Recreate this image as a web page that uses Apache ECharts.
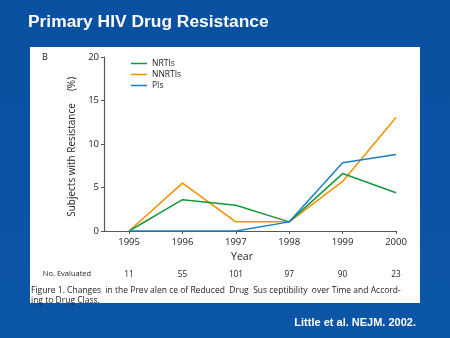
<!DOCTYPE html>
<html><head><meta charset="utf-8">
<script src="https://cdn.jsdelivr.net/npm/echarts@6/dist/echarts.min.js"></script>
<style>html,body{margin:0;padding:0;background:#0a4f9c;}#c{width:450px;height:338px;}</style>
</head><body><div id="c"></div>
<script>
const years = [1995, 1996, 1997, 1998, 1999, 2000];
const nEvaluated = [11, 55, 101, 97, 90, 23];
const nrtis = [0, 3.6, 2.95, 1.05, 6.6, 4.4];
const nnrtis = [0, 5.5, 1.05, 1.05, 5.7, 13.05];
const pis = [0, 0, 0, 1.05, 7.85, 8.8];
const yTicks = [0, 5, 10, 15, 20];

const chart = echarts.init(document.getElementById('c'), null, {renderer: 'canvas'});
const axisGray = '#555';
const font = '"Open Sans", "DejaVu Sans", sans-serif';
function pairs(arr){ return years.map((y,i)=>[y, arr[i]]); }
const option = {
  backgroundColor: {type:'linear', x:0, y:0, x2:0, y2:1, colorStops:[{offset:0,color:'#0950a0'},{offset:1,color:'#0c56a8'}]},
  animation: false,
  graphic: [
    {type:'rect', shape:{x:30, y:47, width:390, height:256}, style:{fill:'#ffffff'}, z:-10},
    {type:'text', left:28, top:14, style:{text:'Primary HIV Drug Resistance', fill:'#ffffff', font:'bold 17.4px "Liberation Sans", Arial, sans-serif', textShadowColor:'#000', textShadowOffsetX:1.5, textShadowOffsetY:1.5, textShadowBlur:0}},
    {type:'text', x:42, y:53, style:{text:'B', fill:'#222', font:'9px '+font}},
    {type:'text', x:72, y:160, rotation:Math.PI/2, style:{text:'Subjects with Resistance', fill:'#222', font:'10px '+font, align:'center', verticalAlign:'middle'}},
    {type:'text', x:72, y:84, rotation:Math.PI/2, style:{text:'(%)', fill:'#222', font:'10px '+font, align:'center', verticalAlign:'middle'}},
    {type:'text', x:242, y:257, style:{text:'Year', fill:'#222', font:'10.5px '+font, align:'center', verticalAlign:'middle'}},
    {type:'text', x:67, y:274, style:{text:'No. Evaluated', fill:'#222', font:'7.5px '+font, align:'center', verticalAlign:'middle'}},
    {type:'text', x:31, y:290.5, style:{text:'Figure 1. Changes  in the Prev alen ce of Reduced  Drug  Sus ceptibility  over Time and Accord-', fill:'#222', font:'8.5px '+font, verticalAlign:'middle'}},
    {type:'text', x:31, y:301, style:{text:'ing to Drug Class.', fill:'#222', font:'8.5px '+font, verticalAlign:'middle'}},
    {type:'text', x:416, y:323, style:{text:'Little et al. NEJM. 2002.', fill:'#ffffff', font:'bold 11px "Liberation Sans", Arial, sans-serif', align:'right', verticalAlign:'middle', textShadowColor:'#000', textShadowOffsetX:1, textShadowOffsetY:1}}
  ],
  legend: {
    orient:'vertical', left:126, top:54, icon:'rect', itemWidth:16, itemHeight:1.5, itemGap:2,
    textStyle:{fontSize:8.5, color:'#222', fontFamily:font, lineHeight:9},
    data:['NRTIs','NNRTIs','PIs']
  },
  grid: {left:104, right:54, top:57, bottom:107, containLabel:false},
  xAxis: [{
    type:'value', min:1994.53, max:2000,
    axisLine:{lineStyle:{color:axisGray, width:1.2}},
    axisTick:{show:true, customValues:years, length:3, lineStyle:{color:axisGray}},
    axisLabel:{customValues:years, color:'#222', fontSize:9.5, fontFamily:font, margin:6, formatter:v=>String(v)},
    splitLine:{show:false}
  },{
    type:'value', min:1994.53, max:2000, position:'bottom', offset:32,
    axisLine:{show:false}, axisTick:{show:false},
    axisLabel:{customValues:years, color:'#222', fontSize:8.3, fontFamily:font, formatter:v=>String(nEvaluated[years.indexOf(Math.round(v))])},
    splitLine:{show:false}
  }],
  yAxis: {
    type:'value', min:0, max:20, interval:5,
    axisLine:{show:true, lineStyle:{color:axisGray, width:1.2}},
    axisTick:{show:true, length:3, lineStyle:{color:axisGray}},
    axisLabel:{color:'#222', fontSize:9.5, fontFamily:font, margin:5},
    splitLine:{show:false}
  },
  series: [
    {name:'NRTIs', type:'line', data:pairs(nrtis), symbol:'none', lineStyle:{color:'#14983c', width:1.5}, itemStyle:{color:'#14983c'}, z:3},
    {name:'NNRTIs', type:'line', data:pairs(nnrtis), symbol:'none', lineStyle:{color:'#f29100', width:1.5}, itemStyle:{color:'#f29100'}, z:2},
    {name:'PIs', type:'line', data:pairs(pis), symbol:'none', lineStyle:{color:'#1b7fc9', width:1.5}, itemStyle:{color:'#1b7fc9'}, z:4}
  ]
};
chart.setOption(option);
</script></body></html>
